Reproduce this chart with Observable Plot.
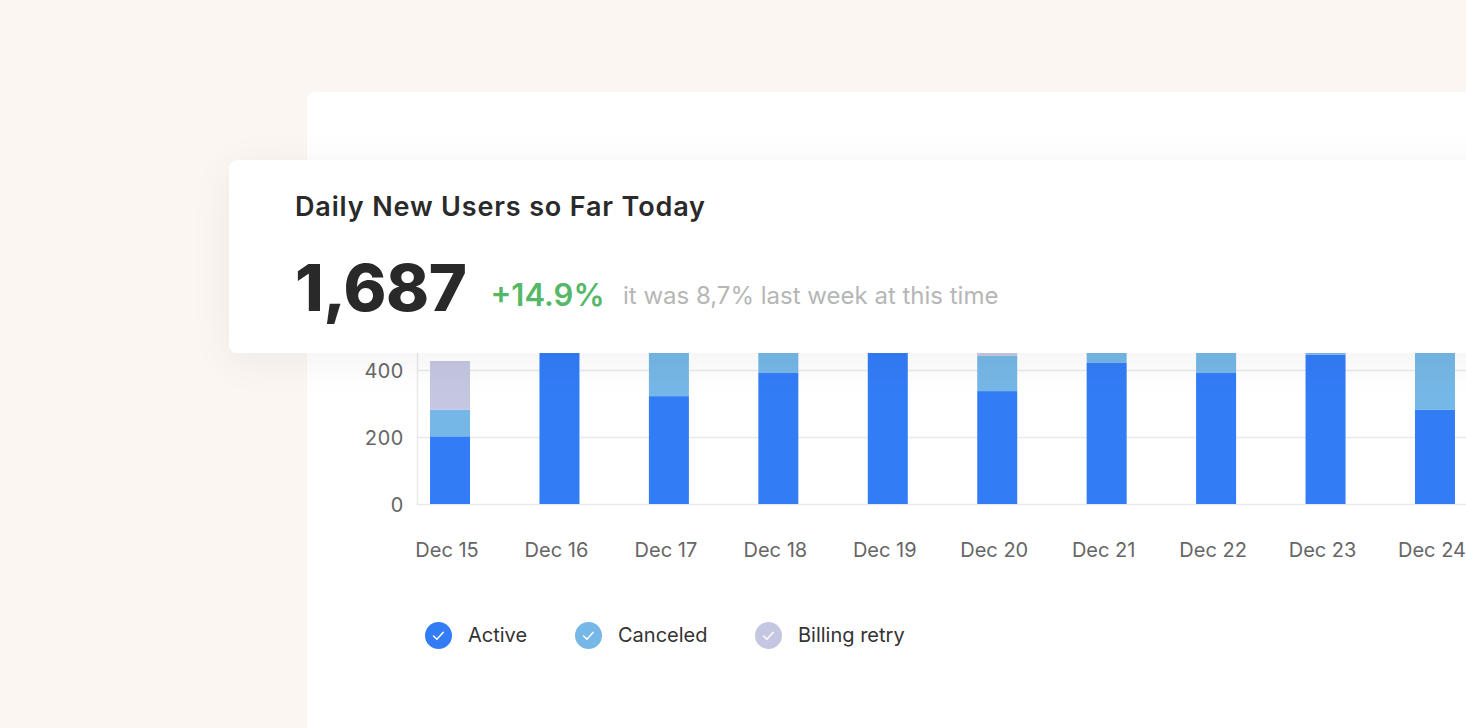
<!DOCTYPE html>
<html>
<head>
<meta charset="utf-8">
<script src="https://cdn.jsdelivr.net/npm/d3@7"></script>
<script src="https://cdn.jsdelivr.net/npm/@observablehq/plot@0.6"></script>
<style>
  html, body { margin: 0; padding: 0; width: 1466px; height: 728px; overflow: hidden; background: #fbf6f2; font-family: Inter, sans-serif; }
  #panel { position: absolute; left: 307px; top: 92px; width: 1200px; height: 700px; background: #fff; border-radius: 8px; }
  #chart { position: absolute; left: 0; top: 0; width: 1468px; height: 728px; }
  #chart svg { display: block; background: transparent; max-width: none !important; }
  #card { position: absolute; left: 229px; top: 160px; width: 1300px; height: 193px; background: #fff; border-radius: 8px; box-shadow: 0 8px 44px rgba(30,30,40,.06); }
  #title { position: absolute; left: 295px; top: 190px; font-size: 27px; line-height: 34px; font-weight: 600; color: #2a2a2a; letter-spacing: .85px; white-space: nowrap; }
  #big { position: absolute; left: 295px; top: 250px; font-size: 65px; line-height: 76px; font-weight: 800; color: #292929; letter-spacing: -.5px; white-space: nowrap; }
  #delta { position: absolute; left: 490.5px; top: 276px; font-size: 31px; line-height: 38px; font-weight: 600; color: #55b868; white-space: nowrap; }
  #note { position: absolute; left: 623px; top: 281px; font-size: 24px; line-height: 30px; color: #b6b6b6; white-space: nowrap; }
  .lg { position: absolute; top: 621px; height: 28px; display: flex; align-items: center; font-size: 20px; color: #333; white-space: nowrap; }
  .lg svg { margin-right: 16px; }
</style>
</head>
<body>
<div id="panel"></div>
<div id="chart"></div>
<div id="card"></div>
<div id="title">Daily New Users so Far Today</div>
<div id="big">1,687</div>
<div id="delta">+14.9%</div>
<div id="note">it was 8,7% last week at this time</div>
<div id="legend"></div>
<script>
const days = ["Dec 15","Dec 16","Dec 17","Dec 18","Dec 19","Dec 20","Dec 21","Dec 22","Dec 23","Dec 24"];
const active   = [202, 520, 322, 391, 500, 337, 421, 391, 446, 281];
const canceled = [ 80,   0, 170, 100,   0, 105,  60,  90,  30, 200];
const retry    = [145,   0,   0,   0,   0,  25,   0,   0,   0,   0];
const seriesNames = ["Active", "Canceled", "Billing retry"];
const seriesColors = ["#327cf6", "#75b7e6", "#c5c6e2"];
const yTicks = [0, 200, 400];

const rows = days.flatMap((d, i) => [
  {day: d, series: seriesNames[0], value: active[i]},
  {day: d, series: seriesNames[1], value: canceled[i]},
  {day: d, series: seriesNames[2], value: retry[i]}
]);

const plot = Plot.plot({
  width: 1468, height: 728,
  marginLeft: 417, marginRight: 0, marginTop: 169, marginBottom: 224,
  style: {fontFamily: "Inter, sans-serif", fontSize: "20px", color: "#666", background: "transparent", overflow: "visible", maxWidth: "none"},
  x: {domain: days, paddingInner: 0.6345, paddingOuter: 0.119, align: 0.5, round: false, label: null},
  y: {domain: [0, 1000], label: null},
  color: {domain: seriesNames, range: seriesColors},
  marks: [
    Plot.ruleY(yTicks, {stroke: "#e9e9ec", strokeWidth: 1.5}),
    Plot.frame({anchor: "left", stroke: "#e9e9ec", strokeWidth: 1.5}),
    Plot.barY(rows, {x: "day", y: "value", fill: "series", order: seriesNames}),
    Plot.axisY({ticks: yTicks, tickSize: 0, tickPadding: 14, dy: 1, tickFormat: d3.format("d"), fill: "#666", label: null}),
    Plot.axisX({tickSize: 0, tickPadding: 38.5, dx: -3.5, fill: "#666", label: null})
  ]
});
document.getElementById("chart").append(plot);

const lefts = [425, 575, 755];
document.getElementById("legend").innerHTML = seriesNames.map((n, i) =>
  `<div class="lg" style="left:${lefts[i]}px"><svg width="27" height="27" viewBox="0 0 27 27"><circle cx="13.5" cy="13.5" r="13.5" fill="${seriesColors[i]}"/><path d="M8.5 14l3.4 3.2 6.4-7" fill="none" stroke="#fff" stroke-width="1.5" stroke-linecap="round" stroke-linejoin="round"/></svg>${n}</div>`
).join("");
</script>
</body>
</html>
